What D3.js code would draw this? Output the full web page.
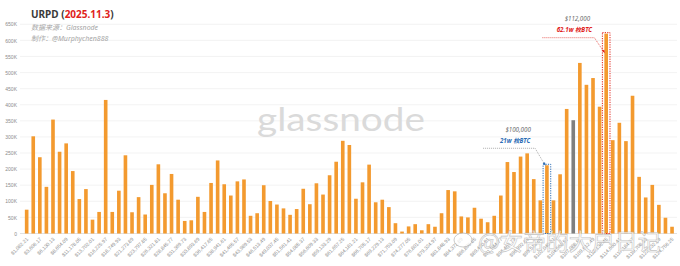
<!DOCTYPE html>
<html>
<head>
<meta charset="utf-8">
<script src="https://cdn.jsdelivr.net/npm/d3@7"></script>
<style>
  body { margin: 0; background: #fff; }
  svg { display: block; font-family: "Noto Sans", "Noto Sans CJK SC", sans-serif; }
</style>
</head>
<body>
<script>
// URPD snapshot, supply per price bucket (BTC)
const supply = [
  74000, 302000, 237000, 145000, 354000, 254000, 280000, 194000, 107000, 138000,
  43000, 67000, 415000, 67000, 133000, 243000, 66000, 113000, 59000, 151000,
  215000, 125000, 185000, 105000, 39000, 41000, 114000, 67000, 157000, 227000,
  153000, 118000, 162000, 168000, 55000, 63000, 150000, 101000, 90000, 78000,
  58000, 76000, 139000, 91000, 156000, 121000, 181000, 223000, 288000, 275000,
  108000, 159000, 214000, 97000, 105000, 82000, 32000, 6000, 22000, 29000,
  10000, 29000, 21000, 63000, 135000, 131000, 53000, 50000, 80000, 46000,
  35000, 55000, 118000, 222000, 191000, 239000, 249000, 169000, 103000, 212000,
  103000, 184000, 387000, 352000, 530000, 462000, 483000, 394000, 621000, 290000,
  344000, 287000, 428000, 176000, 112000, 151000, 89000, 49000, 21000
];

// tick labels, one for every other bucket
const priceLabels = [
  "$1,082.21", "$3,606.17", "$6,130.13", "$8,654.09", "$11,178.05", "$13,702.01",
  "$16,225.97", "$18,749.93", "$21,273.89", "$23,797.85", "$26,321.81", "$28,845.77",
  "$31,369.73", "$33,893.69", "$36,417.65", "$38,941.61", "$41,465.57", "$43,989.53",
  "$46,513.49", "$49,037.45", "$51,561.41", "$54,085.37", "$56,609.33", "$59,133.29",
  "$61,657.25", "$64,181.21", "$66,705.17", "$69,229.13", "$71,753.09", "$74,277.05",
  "$76,801.01", "$79,324.97", "$81,848.93", "$84,372.89", "$86,896.85", "$89,420.81",
  "$91,944.77", "$94,468.73", "$96,992.69", "$99,516.65", "$102,040.61", "$104,564.57",
  "$107,088.53", "$109,612.49", "$112,136.45", "$114,660.41", "$117,184.37", "$119,708.33",
  "$122,232.29", "$124,756.25"
];

const yTicks = [0, 50000, 100000, 150000, 200000, 250000, 300000, 350000,
                400000, 450000, 500000, 550000, 600000, 650000];

const grayBucket = 83;   // the grey bar
const callouts = [
  { idx: 79, price: "$100,000", amount: "21w 枚BTC", color: "#2b6cb5", lead: "#8a8a8a" },
  { idx: 88, price: "$112,000", amount: "62.1w 枚BTC", color: "#e0221b", lead: "#e0221b" }
];

const width = 680, height = 266;

const svg = d3.select("body").append("svg")
  .attr("width", width)
  .attr("height", height);

const x = d3.scaleBand()
  .domain(d3.range(supply.length))
  .range([23.2, 675.5])
  .paddingInner(0.45)
  .paddingOuter(0.25);

const y = d3.scaleLinear()
  .domain([0, 650000])
  .range([233.5, 24.3]);

// gridlines
svg.append("g")
  .selectAll("line")
  .data(yTicks)
  .join("line")
  .attr("x1", 20).attr("x2", 677)
  .attr("y1", d => y(d)).attr("y2", d => y(d))
  .attr("stroke", d => d === 0 ? "#d9d9d9" : "#f0f0f0")
  .attr("stroke-width", 0.8);

// y axis
const yAxis = svg.append("g")
  .attr("transform", "translate(17,0)")
  .call(d3.axisLeft(y).tickValues(yTicks).tickSize(0).tickPadding(0)
    .tickFormat(d => d === 0 ? "0" : (d / 1000) + "K"));
yAxis.select(".domain").remove();
yAxis.selectAll("text").attr("font-size", 5).attr("fill", "#8c8c8c");

// watermark
svg.append("text")
  .attr("x", 341).attr("y", 131)
  .attr("text-anchor", "middle")
  .attr("font-family", "Lato, sans-serif")
  .attr("font-size", 32)
  .attr("textLength", 168)
  .attr("lengthAdjust", "spacingAndGlyphs")
  .attr("fill", "#dadada")
  .text("glassnode");

// bars
svg.append("g")
  .selectAll("rect")
  .data(supply)
  .join("rect")
  .attr("x", (d, i) => x(i))
  .attr("width", x.bandwidth())
  .attr("y", d => y(d))
  .attr("height", d => y(0) - y(d))
  .attr("fill", (d, i) => i === grayBucket ? "#7f7f7f" : "#f39a2f");

// x axis, every other bucket labelled
const xAxis = svg.append("g")
  .attr("transform", `translate(0,${y(0)})`)
  .call(d3.axisBottom(x)
    .tickValues(d3.range(0, supply.length, 2))
    .tickSize(0).tickPadding(0)
    .tickFormat(i => priceLabels[i / 2]));
xAxis.select(".domain").remove();
xAxis.selectAll("text")
  .attr("font-size", 5)
  .attr("fill", "#8c8c8c")
  .attr("text-anchor", "end")
  .attr("dy", 0)
  .attr("transform", "translate(2,6) rotate(-45)");

// callouts: dotted box round the bar, leader line and two text rows
callouts.forEach(c => {
  const bx = x(c.idx), bw = x.bandwidth();
  const top = y(supply[c.idx]);
  const lineY = Math.max(top - 17, 37.7);     // keep the text inside the frame
  const tipY = Math.max(top, lineY + 15);
  const g = svg.append("g");
  g.append("rect")
    .attr("x", bx - 2).attr("y", top - 1)
    .attr("width", bw + 4).attr("height", y(0) - top + 1)
    .attr("fill", "none")
    .attr("stroke", c.color)
    .attr("stroke-width", 1)
    .attr("stroke-dasharray", "1.2,1.2");
  g.append("polyline")
    .attr("points", [[bx - 62, lineY], [bx - 10, lineY], [bx, tipY]].join(" "))
    .attr("fill", "none")
    .attr("stroke", c.lead)
    .attr("stroke-width", 0.7)
    .attr("stroke-dasharray", "1,1");
  g.append("path")
    .attr("d", `M${bx + 0.5},${tipY + 0.5} l-3,-2.4 l2.4,-1 z`)
    .attr("fill", c.color);
  g.append("text")
    .attr("x", bx - 27).attr("y", lineY - 16.5)
    .attr("text-anchor", "middle")
    .attr("font-size", 6.2).attr("font-style", "italic")
    .attr("fill", "#6b6b6b")
    .text(c.price);
  g.append("text")
    .attr("x", bx - 30).attr("y", lineY - 5.5)
    .attr("text-anchor", "middle")
    .attr("font-size", 6.2).attr("font-style", "italic").attr("font-weight", "bold")
    .attr("fill", c.color)
    .text(c.amount);
});

// title block
const title = svg.append("text")
  .attr("x", 31).attr("y", 17.5)
  .attr("font-size", 10).attr("font-weight", "bold")
  .attr("fill", "#3a3a3a");
title.append("tspan").text("URPD (");
title.append("tspan").attr("fill", "#e0221b").text("2025.11.3");
title.append("tspan").text(")");

svg.append("text")
  .attr("x", 31).attr("y", 29.5)
  .attr("font-size", 7).attr("font-style", "italic")
  .attr("fill", "#a6a6a6")
  .text("数据来源：Glassnode");
svg.append("text")
  .attr("x", 31).attr("y", 41)
  .attr("font-size", 7).attr("font-style", "italic")
  .attr("fill", "#a6a6a6")
  .text("制作：@Murphychen888");

// weibo watermark, bottom right
const wm = svg.append("g").attr("opacity", 0.75);
wm.append("ellipse")
  .attr("cx", 463).attr("cy", 240).attr("rx", 9).attr("ry", 7)
  .attr("fill", "#fff").attr("stroke", "#aaa").attr("stroke-width", 0.8);
wm.append("text")
  .attr("x", 478).attr("y", 250)
  .attr("font-family", "'Noto Sans CJK SC', sans-serif")
  .attr("font-size", 23)
  .attr("fill", "#fff")
  .attr("stroke", "#b0b0b0").attr("stroke-width", 0.6)
  .text("@女帝的大户日记");
</script>
</body>
</html>
